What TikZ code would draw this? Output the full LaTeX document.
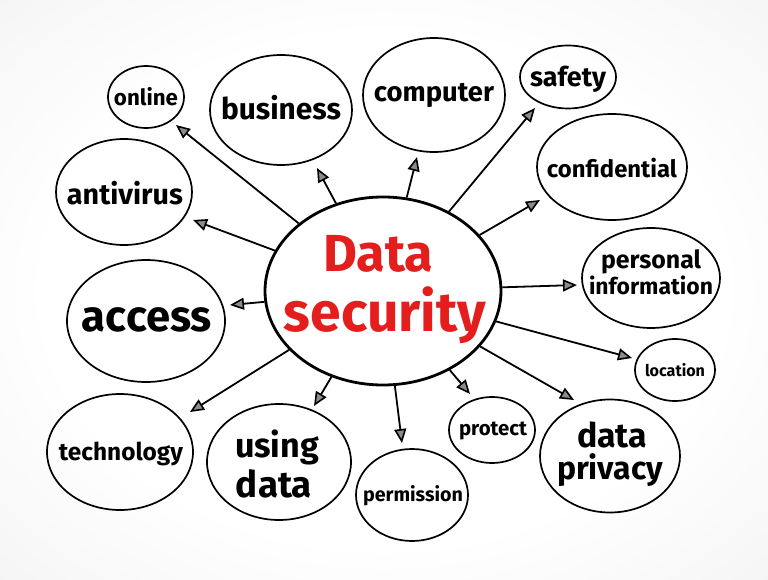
\documentclass[tikz,border=0pt]{standalone}
\usepackage{fontspec}
\setmainfont{Fira Sans}
\usetikzlibrary{shapes.geometric,arrows.meta}
\newcommand{\fw}[2]{\resizebox{#1pt}{!}{#2}}
\definecolor{redtxt}{HTML}{E41E1C}
\pgfdeclareradialshading{bgsh}{\pgfpoint{0bp}{0bp}}{color(0bp)=(white); color(22bp)=(white); color(50bp)=(black!8); color(71bp)=(black!11); color(100bp)=(black!11)}
\begin{document}
\begin{tikzpicture}[x=1pt,y=-1pt,
  bub/.style={ellipse, draw=black, line width=1.7pt, inner sep=0pt},
  lbl/.style={inner sep=0pt, text=black, font=\bfseries},
  ttl/.style={text=redtxt, font=\bfseries, inner sep=0pt},
  arr/.style={line width=1.8pt, -{Triangle[length=14pt,width=12pt,line width=1.6pt,fill=black!45]}}]
\shade[shading=bgsh] (0,0) rectangle (768,580);
\useasboundingbox (0,0) rectangle (768,580);

% centre
\node[bub, line width=2.8pt, minimum width=236pt, minimum height=188pt] (c) at (383,291) {};
\node[ttl] (t1) at (378,254) {\fw{110}{Data}};
\node[ttl] (t2) at (385,315) {\fw{202}{security}};

% bubbles
\node[bub, minimum width=76pt, minimum height=62pt] (online) at (146,97) {};
\node[lbl] (online-t) at (146,97) {\fw{64}{online}};
\node[bub, minimum width=142pt, minimum height=110pt] (business) at (281,110) {};
\node[lbl] (business-t) at (281,108) {\fw{120}{business}};
\node[bub, minimum width=142pt, minimum height=114pt] (computer) at (434,95) {};
\node[lbl] (computer-t) at (434,95) {\fw{120}{computer}};
\node[bub, minimum width=96pt, minimum height=63pt] (safety) at (568,77) {};
\node[lbl] (safety-t) at (568,79) {\fw{76}{safety}};
\node[bub, minimum width=150pt, minimum height=106pt] (confidential) at (612,167) {};
\node[lbl] (confidential-t) at (612,168) {\fw{130}{confidential}};
\node[bub, minimum width=138pt, minimum height=100pt] (personal) at (651,278) {};
\node[lbl] (pl1) at (651,262) {\fw{100}{personal}};
\node[lbl] (pl2) at (651,285) {\fw{124}{information}};
\node[bub, minimum width=80pt, minimum height=62pt] (location) at (675,370) {};
\node[lbl] (location-t) at (675,370) {\fw{60}{location}};
\node[bub, minimum width=140pt, minimum height=113pt] (privacy) at (610,456) {};
\node[lbl] (dp1) at (612,435) {\fw{70}{data}};
\node[lbl] (dp2) at (610,470) {\fw{106}{privacy}};
\node[bub, minimum width=86pt, minimum height=66pt] (protect) at (492,430) {};
\node[lbl] (protect-t) at (493,431) {\fw{68}{protect}};
\node[bub, minimum width=112pt, minimum height=92pt] (permission) at (412,495) {};
\node[lbl] (permission-t) at (413,496) {\fw{100}{permission}};
\node[bub, minimum width=144pt, minimum height=116pt] (using) at (279,462) {};
\node[lbl] (ud1) at (277,447) {\fw{84}{using}};
\node[lbl] (ud2) at (274,484) {\fw{76}{data}};
\node[bub, minimum width=146pt, minimum height=116pt] (technology) at (120,452) {};
\node[lbl] (technology-t) at (121,454) {\fw{124}{technology}};
\node[bub, minimum width=158pt, minimum height=122pt] (access) at (146,321) {};
\node[lbl] (access-t) at (147,320) {\fw{130}{access}};
\node[bub, minimum width=136pt, minimum height=106pt] (antivirus) at (124,192) {};
\node[lbl] (antivirus-t) at (125,193) {\fw{116}{antivirus}};

% arrow tips
\coordinate (a1) at (176,125);
\coordinate (a2) at (317,168);
\coordinate (a3) at (417,157);
\coordinate (a4) at (535,108);
\coordinate (a5) at (540,200);
\coordinate (a6) at (577,285);
\coordinate (a7) at (632,358);
\coordinate (a8) at (574,400);
\coordinate (a9) at (470,394);
\coordinate (a10) at (402,443);
\coordinate (a11) at (314,406);
\coordinate (a12) at (190,412);
\coordinate (a13) at (230,305);
\coordinate (a14) at (193,220);
\foreach \i in {1,...,14} {\draw[arr] (c) -- (a\i);}
\end{tikzpicture}
\end{document}
